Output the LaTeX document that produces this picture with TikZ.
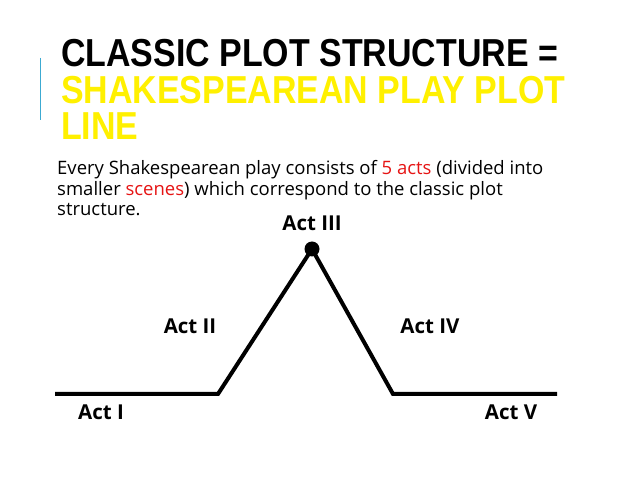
\documentclass[tikz,border=0pt]{standalone}
\usepackage{fontspec}
\setmainfont{Open Sans}
\newfontfamily\titlefont[FakeStretch=0.87]{Liberation Sans}
\definecolor{tyellow}{RGB}{255,240,0}
\definecolor{tred}{RGB}{230,20,20}
\definecolor{tcyan}{RGB}{60,170,210}
\begin{document}
\begin{tikzpicture}[x=1pt,y=-1pt,
  ttl/.style={anchor=base west,inner sep=0pt,font=\titlefont\bfseries\fontsize{39}{39}\selectfont},
  body/.style={anchor=base west,inner sep=0pt,font=\fontsize{18.5}{20}\selectfont},
  actlbl/.style={inner sep=0pt,font=\bfseries\fontsize{20.5}{22}\selectfont},
  plot/.style={line width=4pt}]
\useasboundingbox (0,0) rectangle (638,478);
\fill[white] (0,0) rectangle (638,478);
\draw[tcyan,line width=1pt] (40,58) -- (40,120);
\node[ttl] (t1) at (61,67) {CLASSIC PLOT STRUCTURE =};
\node[ttl,text=tyellow] (t2) at (61,104) {SHAKESPEAREAN PLAY PLOT};
\node[ttl,text=tyellow] (t3) at (61,140) {LINE};
\node[body] (b1) at (57,175) {Every Shakespearean play consists of \textcolor{tred}{5 acts} (divided into};
\node[body] (b2) at (57,196) {smaller \textcolor{tred}{scenes}) which correspond to the classic plot};
\node[body] (b3) at (57,216) {structure.};
\coordinate (p0) at (55,394);
\coordinate (p1) at (218,394);
\coordinate (p2) at (312,249);
\coordinate (p3) at (393,394);
\coordinate (p4) at (557,394);
\draw[plot,line join=miter] (p0) -- (p1) -- (p2) -- (p3) -- (p4);
\fill (p2) circle (7.5);
\node[actlbl] (a3) at (312,223) {Act III};
\node[actlbl] (a2) at (190,326) {Act II};
\node[actlbl] (a4) at (430,326) {Act IV};
\node[actlbl] (a1) at (101,412) {Act I};
\node[actlbl] (a5) at (511,412) {Act V};
\end{tikzpicture}
\end{document}
